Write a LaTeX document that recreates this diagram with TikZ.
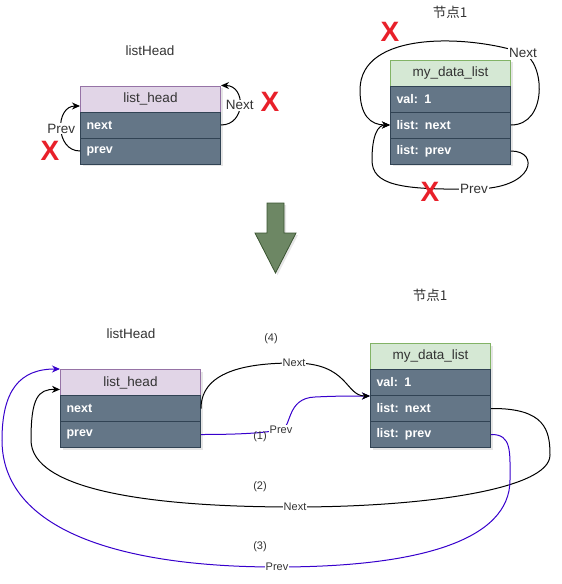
\documentclass[tikz,border=0pt]{standalone}
\usepackage{fontspec}
\setmainfont{Liberation Sans}
\newfontfamily\cjkfont{Noto Sans CJK SC}
\usetikzlibrary{arrows.meta,shadows}
\definecolor{headP}{HTML}{E1D5E7}
\definecolor{lineP}{HTML}{9673A6}
\definecolor{headG}{HTML}{D5E8D4}
\definecolor{lineG}{HTML}{82B366}
\definecolor{rowF}{HTML}{647687}
\definecolor{rowL}{HTML}{314354}
\definecolor{txt}{HTML}{333333}
\definecolor{indigo}{HTML}{3700CC}
\definecolor{xred}{HTML}{E8202A}
\definecolor{arrG}{HTML}{6D8764}
\definecolor{arrD}{HTML}{3A5431}
\tikzset{
  box/.style={line width=1pt,minimum height=26pt,inner sep=0pt,
    drop shadow={shadow xshift=2pt,shadow yshift=-2pt,opacity=0.2}},
  hdP/.style={box,draw=lineP,fill=headP,text=txt,minimum width=140pt,
    font=\fontsize{13.5}{15}\selectfont},
  hdG/.style={box,draw=lineG,fill=headG,text=txt,minimum width=120pt,
    font=\fontsize{13.5}{15}\selectfont},
  rowP/.style={box,draw=rowL,fill=rowF,text=white,text width=128pt,
    inner xsep=6pt,align=left,font=\fontsize{12.5}{15}\bfseries},
  rowG/.style={rowP,text width=108pt},
  title/.style={text=txt,font=\fontsize{13.5}{15}\selectfont},
  lbl/.style={fill=white,inner sep=1pt,text=txt,font=\fontsize{13.5}{15}\selectfont},
  lblsm/.style={lbl,font=\fontsize{11}{13}\selectfont},
  num/.style={text=txt,font=\fontsize{11}{13}\selectfont},
  xmark/.style={text=xred,font=\fontsize{28}{28}\bfseries,inner sep=0pt},
  link/.style={line width=1pt,-{Stealth[length=8pt,width=7pt]}},
}
\begin{document}
\begin{tikzpicture}[x=1pt,y=-1pt]
\useasboundingbox (0,0) rectangle (562,584);
% before
\node[title] (capA) at (150,51) {listHead};
\node[hdP] (lhAhead) at (150.5,99) {list\_head};
\node[rowP] (lhAnext) at (150.5,125) {next};
\node[rowP] (lhAprev) at (150.5,151) {prev};
\node[title] (capB) at (450,12) {\cjkfont 节点1};
\node[hdG] (mdAhead) at (450.5,73) {my\_data\_list};
\node[rowG] (mdAval) at (450.5,99) {val: 1};
\node[rowG] (mdAnext) at (450.5,125) {list: next};
\node[rowG] (mdAprev) at (450.5,151) {list: prev};
\draw[link] (lhAnext.east) .. controls +(25,0) and +(25,0) .. (lhAhead.north east)
  node[lbl,pos=0.5] {Next};
\draw[link] (lhAprev.west) .. controls +(-25,0) and +(-25,0) .. ([yshift=-7pt]lhAhead.west)
  node[lbl,pos=0.5] {Prev};
\draw[link] (mdAnext.east) .. controls (548,125) and (545,62) .. (523,53) node[lbl] {Next}
  .. controls (470,35) and (360,30) .. (360,90)
  .. controls (360,115) and (370,125) .. (mdAnext.west);
\draw[link] (mdAprev.east) .. controls (540,151) and (535,189) .. (474,189) node[lbl] {Prev}
  .. controls (400,190) and (372,185) .. (372,160)
  .. controls (372,135) and (378,125) .. (mdAnext.west);
\node[xmark] (xA) at (270,102) {X};
\node[xmark] (xB) at (50,151) {X};
\node[xmark] (xC) at (390,32) {X};
\node[xmark] (xD) at (430,192) {X};
% arrow
\filldraw[fill=arrG,draw=arrD,line width=0.8pt,
  drop shadow={shadow xshift=2pt,shadow yshift=-2pt,opacity=0.2}]
  (267,203) -- (284,203) -- (284,233) -- (296,233) -- (275.5,273)
  -- (255,233) -- (267,233) -- cycle;
% after
\node[title] (capC) at (131,334) {listHead};
\node[hdP] (lhBhead) at (130.5,382.5) {list\_head};
\node[rowP] (lhBnext) at (130.5,408.5) {next};
\node[rowP] (lhBprev) at (130.5,434.5) {prev};
\node[title] (capD) at (430,295) {\cjkfont 节点1};
\node[hdG] (mdBhead) at (430.5,356.5) {my\_data\_list};
\node[rowG] (mdBval) at (430.5,382.5) {val: 1};
\node[rowG] (mdBnext) at (430.5,408.5) {list: next};
\node[rowG] (mdBprev) at (430.5,434.5) {list: prev};
\draw[link,indigo] (lhBprev.east) .. controls +(50,0) and +(-15,2) .. (281,430) node[lblsm] {Prev}
  .. controls (292,428) and (286,398) .. (315,397)
  .. controls (335,396) and (350,396) .. (mdBval.south west);
\draw[link] (lhBnext.east) .. controls +(0,-40) and +(-40,0) .. (294,363) node[lblsm] {Next}
  .. controls +(55,0) and +(-25,0) .. (mdBval.south west);
\draw[link] (mdBnext.east) .. controls (545,408) and (550,430) .. (550,455)
  .. controls (550,490) and (420,507) .. (295,507) node[lblsm] {Next}
  .. controls (150,507) and (31,490) .. (31,440)
  .. controls (31,398) and (38,389) .. ([yshift=-7pt]lhBhead.west);
\draw[link,indigo] (mdBprev.east) .. controls (512,434) and (510,452) .. (510,480)
  .. controls (510,540) and (420,567) .. (277,567) node[lblsm] {Prev}
  .. controls (120,567) and (2,530) .. (2,440)
  .. controls (2,390) and (20,369) .. (lhBhead.north west);
\node[num] (nA) at (260,437) {(1)};
\node[num] (nB) at (260,487) {(2)};
\node[num] (nC) at (260,547) {(3)};
\node[num] (nD) at (271,339) {(4)};
\end{tikzpicture}
\end{document}
